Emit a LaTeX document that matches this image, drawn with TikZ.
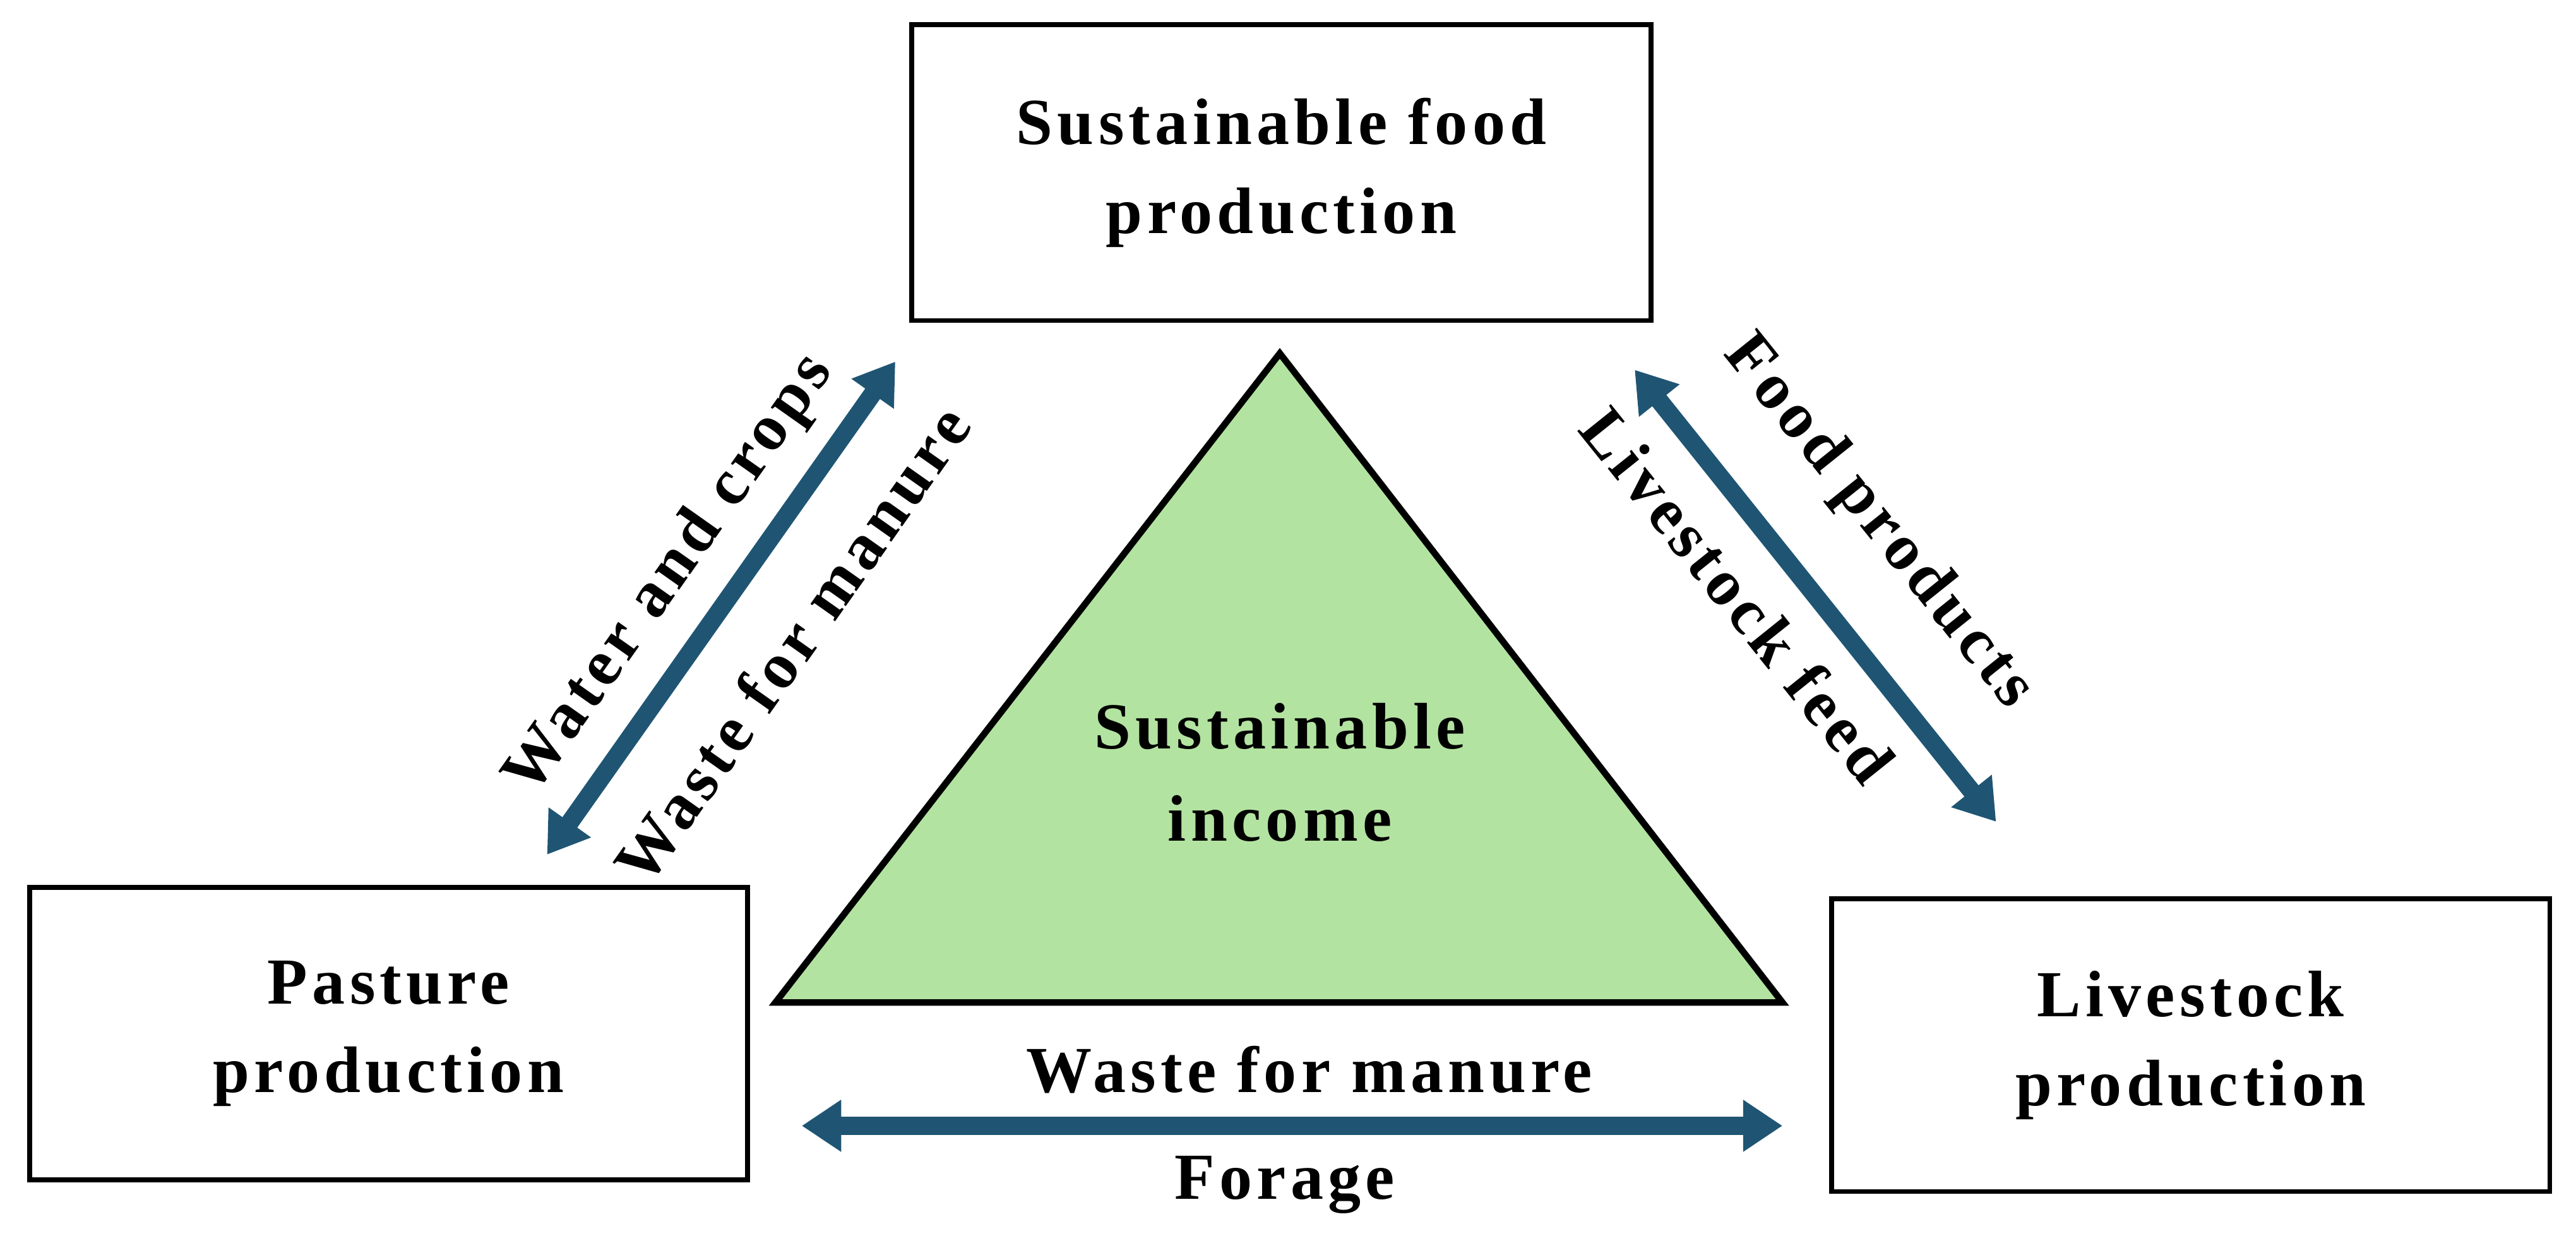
\documentclass[tikz,border=0pt]{standalone}
\usepackage{fontspec}
\setmainfont{Liberation Serif}[LetterSpace=7]
\usetikzlibrary{arrows.meta}
\definecolor{arr}{HTML}{1F5573}
\definecolor{tri}{HTML}{B3E3A1}
\begin{document}
\begin{tikzpicture}[x=0.5pt,y=-0.5pt,
  box/.style={draw,line width=1.5pt,font=\fontsize{20}{27}\selectfont\bfseries,align=center},
  lab/.style={font=\fontsize{20}{22}\selectfont\bfseries},
  dbl/.style={draw=arr,line width=5.5pt,{Triangle[length=12pt,width=15pt]}-{Triangle[length=12pt,width=15pt]}}]
\useasboundingbox (0,0) rectangle (1568,756);
\node[box,minimum width=225pt,minimum height=90pt] (top) at (780,105) {Sustainable food\\production};
\node[box,minimum width=218.5pt,minimum height=89pt] (left) at (236.5,629) {Pasture\\production};
\node[box,minimum width=218.5pt,minimum height=89pt] (right) at (1333.5,636) {Livestock\\production};
\filldraw[fill=tri,line width=2pt] (779,215) coordinate (apex) -- (1085,610) -- (472,610) -- cycle;
\node[lab,align=center,font=\fontsize{20}{28}\selectfont\bfseries] (inc) at (779,470) {Sustainable\\income};
\coordinate (l1) at (545,220); \coordinate (l2) at (333,520);
\coordinate (r1) at (995,225); \coordinate (r2) at (1215,500);
\coordinate (b1) at (488,685); \coordinate (b2) at (1085,685);
\draw[dbl] (l2) -- (l1);
\draw[dbl] (r1) -- (r2);
\draw[dbl] (b1) -- (b2);
\node[lab,rotate=54.8] (wc) at (408,350) {Water and crops};
\node[lab,rotate=54.8] (wm) at (482,392) {Waste for manure};
\node[lab,rotate=-51.3] (fp) at (1143,318) {Food products};
\node[lab,rotate=-51.3] (lf) at (1058,362) {Livestock feed};
\node[lab] (wm2) at (797,651) {Waste for manure};
\node[lab] (fo) at (782,721) {Forage};
\end{tikzpicture}
\end{document}
